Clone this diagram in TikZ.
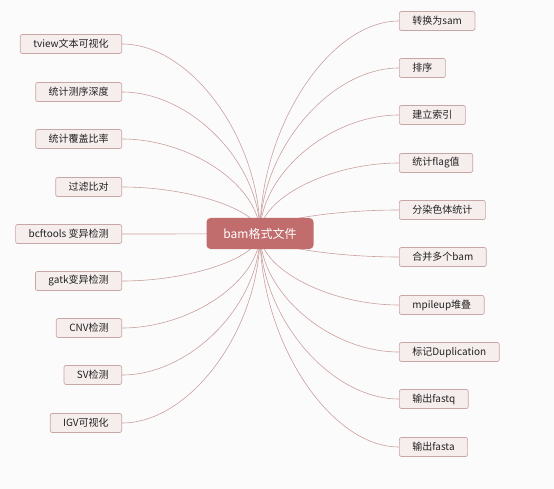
\documentclass[tikz,border=0pt]{standalone}
\usepackage{fontspec}
\setmainfont{Noto Sans CJK SC}
\usetikzlibrary{backgrounds,calc}

\definecolor{pagebg}{HTML}{FCFBFB}
\definecolor{hubred}{HTML}{C26D6D}
\definecolor{leaffill}{HTML}{F6EDED}
\definecolor{leafline}{HTML}{C9A6A6}
\definecolor{linkcol}{HTML}{C9A0A0}
\definecolor{textgray}{HTML}{222222}

\begin{document}
\begin{tikzpicture}[x=1pt,y=-1pt,
    leaf/.style={draw=leafline,fill=leaffill,rounded corners=2pt,line width=0.7pt,
        minimum height=19pt,inner xsep=13pt,inner ysep=0pt,text=textgray,
        font=\fontsize{10}{12}\selectfont},
    hub/.style={fill=hubred,rounded corners=4pt,minimum width=107pt,minimum height=31pt,
        text=white,font=\fontsize{12}{14}\selectfont},
    branch/.style={draw=linkcol,line width=0.6pt,
        to path={.. controls ($(\tikztostart)!0.5!(\tikztostart |- \tikztotarget)$)
            and ($(\tikztotarget)!0.5!(\tikztostart |- \tikztotarget)$) .. (\tikztotarget)}}]
    \useasboundingbox (0,0) rectangle (554,489);

    \node[hub] (bam) at (260,233.5) {bam格式文件};

    % left side
    \node[leaf,anchor=east] (tview) at (122,44)  {tview文本可视化};
    \node[leaf,anchor=east] (depth) at (122,92)  {统计测序深度};
    \node[leaf,anchor=east] (cover) at (122,139) {统计覆盖比率};
    \node[leaf,anchor=east] (filt)  at (122,187) {过滤比对};
    \node[leaf,anchor=east] (bcf)   at (122,234) {bcftools 变异检测};
    \node[leaf,anchor=east] (gatk)  at (122,281) {gatk变异检测};
    \node[leaf,anchor=east] (cnv)   at (122,328) {CNV检测};
    \node[leaf,anchor=east] (sv)    at (122,375) {SV检测};
    \node[leaf,anchor=east] (igv)   at (122,423) {IGV可视化};

    % right side
    \node[leaf,anchor=west] (sam)   at (399,21)  {转换为sam};
    \node[leaf,anchor=west] (sort)  at (399,68)  {排序};
    \node[leaf,anchor=west] (index) at (399,115) {建立索引};
    \node[leaf,anchor=west] (flag)  at (399,163) {统计flag值};
    \node[leaf,anchor=west] (chrom) at (399,210) {分染色体统计};
    \node[leaf,anchor=west] (merge) at (399,257) {合并多个bam};
    \node[leaf,anchor=west] (pile)  at (399,305) {mpileup堆叠};
    \node[leaf,anchor=west] (dup)   at (399,352) {标记Duplication};
    \node[leaf,anchor=west] (fq)    at (399,399) {输出fastq};
    \node[leaf,anchor=west] (fa)    at (399,447) {输出fasta};

    \begin{scope}[on background layer]
        \fill[pagebg] (0,0) rectangle (554,489);
        \path[branch]
        (bam.center) edge (tview.east) edge (depth.east) edge (cover.east)
                     edge (filt.east) edge (bcf.east) edge (gatk.east)
                     edge (cnv.east) edge (sv.east) edge (igv.east)
        (bam.center) edge (sam.west) edge (sort.west) edge (index.west)
                     edge (flag.west) edge (chrom.west) edge (merge.west)
                     edge (pile.west) edge (dup.west) edge (fq.west) edge (fa.west);
    \end{scope}
\end{tikzpicture}
\end{document}
